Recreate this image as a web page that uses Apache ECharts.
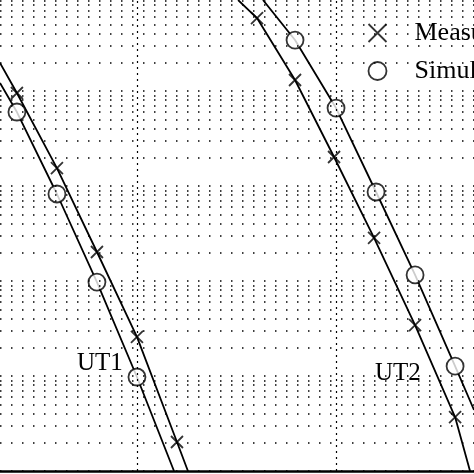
<!DOCTYPE html>
<html><head><meta charset="utf-8">
<script src="https://cdn.jsdelivr.net/npm/echarts@6/dist/echarts.min.js"></script>
<style>html,body{margin:0;padding:0;background:#fff}#c{width:474px;height:474px}</style>
</head><body><div id="c"></div>
<script>
const ut1MeasX = [0.312,0.397,0.598,0.799,1.000,1.201,1.256];
const ut1MeasY = [19720,9530,1545,202,25.8,2.02,1];
const ut1SimX = [0.312,0.397,0.598,0.799,1.000,1.186];
const ut1SimY = [12140,6010,824,97.5,9.76,1];
const ut2MeasX = [1.508,1.603,1.794,1.990,2.191,2.397,2.598,2.673];
const ut2MeasY = [90800,58600,13060,2020,284,34.4,3.7,1];
const ut2SimX = [1.633,1.794,2.000,2.201,2.397,2.598,2.693];
const ut2SimY = [90800,34400,6620,865,116,12.7,4.39];
const ut1MeasMk = [1,2,3,4,5];
const ut1SimMk = [1,2,3,4];
const ut2MeasMk = [1,2,3,4,5,6];
const ut2SimMk = [1,2,3,4,5];
const xMajor = [1,2];
const gridVals = [];
for (let k=0;k<5;k++) for (let m=1;m<=9;m++) gridVals.push(m*Math.pow(10,k));

const zip=(xs,ys)=>xs.map((x,i)=>[x,ys[i]]);
const pick=(xs,ys,idx)=>idx.map(i=>[xs[i],ys[i]]);
const X='path://M0,0L10,10M10,0L0,10';
const lineS=(d)=>({type:'line',data:d,symbol:'none',lineStyle:{color:'#000',width:1.8},silent:true,z:3});
const mk=(d,name,sym,sz)=>({type:'scatter',name:name,data:d,symbol:sym,symbolSize:sz,
  itemStyle:{color:sym==='circle'?'#fff':'none',borderColor:'#000',borderWidth:1.8},z:4});

const chart=echarts.init(document.getElementById('c'));
chart.setOption({
  animation:false,
  grid:{left:0,right:0,top:0,bottom:3},
  xAxis:{type:'value',min:0.312,max:2.693,
    axisLine:{show:true,lineStyle:{color:'#000',width:2.5}},
    axisTick:{show:false},axisLabel:{show:false},splitLine:{show:false}},
  yAxis:{type:'log',min:1,max:90800,logBase:10,
    axisLine:{show:false},axisTick:{show:false},axisLabel:{show:false},splitLine:{show:false}},
  legend:{orient:'vertical',left:361,top:15,itemGap:12,itemWidth:24,itemHeight:18,
    textStyle:{fontFamily:'Liberation Serif',fontSize:26,color:'#000',padding:[0,0,0,20]},
    data:[{name:'Measured',icon:X,itemStyle:{color:'none',borderColor:'#000',borderWidth:1.8}},
          {name:'Simulated',icon:'circle',itemStyle:{color:'#fff',borderColor:'#000',borderWidth:1.8}}]},
  graphic:[
    {type:'text',left:77,top:351,style:{text:'UT1',font:'25px "Liberation Serif"',fill:'#000'}},
    {type:'text',left:375,top:361,style:{text:'UT2',font:'25px "Liberation Serif"',fill:'#000'}}
  ],
  series:[
    {type:'line',data:[],silent:true,markLine:{symbol:'none',silent:true,label:{show:false},
      lineStyle:{color:'#000',type:[1.5,9.5],width:1.5},
      data:gridVals.map(v=>({yAxis:v}))}},
    {type:'line',data:[],silent:true,markLine:{symbol:'none',silent:true,label:{show:false},
      lineStyle:{color:'#000',type:[2,4],width:1.2},
      data:xMajor.map(v=>({xAxis:v}))}},
    lineS(zip(ut1MeasX,ut1MeasY)),
    lineS(zip(ut1SimX,ut1SimY)),
    lineS(zip(ut2MeasX,ut2MeasY)),
    lineS(zip(ut2SimX,ut2SimY)),
    mk(pick(ut1MeasX,ut1MeasY,ut1MeasMk),'Measured',X,12),
    mk(pick(ut2MeasX,ut2MeasY,ut2MeasMk),'Measured',X,12),
    mk(pick(ut1SimX,ut1SimY,ut1SimMk),'Simulated','circle',17),
    mk(pick(ut2SimX,ut2SimY,ut2SimMk),'Simulated','circle',17)
  ]
});
</script></body></html>
